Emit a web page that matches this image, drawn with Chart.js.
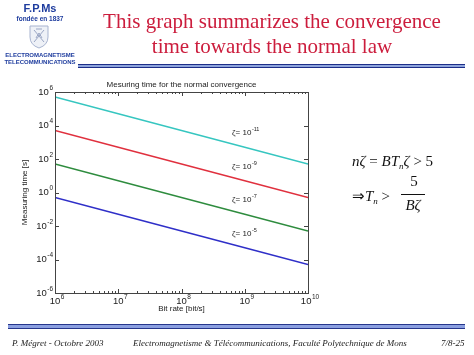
<!DOCTYPE html>
<html><head><meta charset="utf-8">
<script src="https://cdn.jsdelivr.net/npm/chart.js@4/dist/chart.umd.min.js"></script>
<style>
html,body{margin:0;padding:0;background:#fff;}
#page{position:relative;width:474px;height:355px;overflow:hidden;background:#fff;}
#c{position:absolute;left:0;top:0;}
.t{position:absolute;white-space:nowrap;}
.logo{font-family:"Liberation Sans",Arial,sans-serif;color:#1e3c9e;font-weight:bold;text-align:center;width:80px;left:0;}
.ttl{font-family:"Liberation Serif","Times New Roman",serif;color:#cc1d3d;font-size:21px;width:474px;left:35px;text-align:center;}
.foot{font-family:"Liberation Serif","Times New Roman",serif;font-style:italic;font-size:9px;color:#222;top:338px;}
.f{font-family:"Liberation Serif","Times New Roman",serif;font-size:15px;color:#111;}
.f i{font-style:italic;}
sub{font-size:9px;vertical-align:-3px;line-height:0;}
</style></head>
<body><div id="page">
<canvas id="c" width="474" height="355"></canvas>
<div class="t logo" style="top:2px;font-size:11px;">F.P.Ms</div>
<div class="t logo" style="top:15px;font-size:6.5px;">fondée en 1837</div>
<svg class="t" style="left:28px;top:24px" width="22" height="26" viewBox="0 0 22 26">
<path d="M2 2 H20 V13 Q20 21 11 24 Q2 21 2 13 Z" fill="#eef1f7" stroke="#a7b3cf" stroke-width="1"/>
<path d="M6 6 L16 18 M16 6 L6 18 M8 5 H14 M11 9 L8 14 M11 9 L14 14" stroke="#9aa6c4" stroke-width="1" fill="none"/>
</svg>
<div class="t logo" style="top:52px;font-size:6px;">ELECTROMAGNETISME</div>
<div class="t logo" style="top:59px;font-size:6px;">TELECOMMUNICATIONS</div>
<div class="t" style="left:78px;top:64px;width:387px;height:2px;background:#8ea4dc;border-top:1px solid #1c2e88;border-bottom:1px solid #1c2e88;"></div>
<div class="t ttl" style="top:9px;">This graph summarizes the convergence</div>
<div class="t ttl" style="top:34px;">time towards the normal law</div>

<div class="t f" style="left:352px;top:153px;"><i>nζ</i> = <i>BT<sub>n</sub>ζ</i> &gt; 5</div>
<div class="t f" style="left:352px;top:187px;">⇒<i>T<sub>n</sub></i> &gt;</div>
<div class="t f" style="left:403px;top:173px;width:22px;text-align:center;">5</div>
<div class="t" style="left:401px;top:194px;width:24px;height:1px;background:#111;"></div>
<div class="t f" style="left:401px;top:197px;width:24px;text-align:center;"><i>Bζ</i></div>

<div class="t" style="left:8px;top:324px;width:457px;height:3px;background:#8b9fe0;border-top:1px solid #26368c;border-bottom:1px solid #26368c;"></div>
<div class="t foot" style="left:12px;">P. Mégret - Octobre 2003</div>
<div class="t foot" style="left:133px;">Electromagnetisme &amp; Télécommunications, Faculté Polytechnique de Mons</div>
<div class="t foot" style="left:441px;">7/8-25</div>
</div>
<script>
// ---- data ----
const bitRates = [1e6, 1e7, 1e8, 1e9, 1e10];
const zeta11 = [5e5, 5e4, 5e3, 5e2, 5e1];
const zeta9  = [5e3, 5e2, 5e1, 5, 0.5];
const zeta7  = [50, 5, 0.5, 0.05, 0.005];
const zeta5  = [0.5, 0.05, 0.005, 5e-4, 5e-5];
const seriesNames = ['-11', '-9', '-7', '-5'];
const xTickExps = [6, 7, 8, 9, 10];
const yTickExps = [6, 4, 2, 0, -2, -4, -6];
const chartTitle = 'Mesuring time for the normal convergence';
const xTitle = 'Bit rate [bit/s]';
const yTitle = 'Measuring time [s]';

const colors = ['#36c6c0', '#e0303e', '#2e8c3e', '#2f2fc8'];
const allSeries = [zeta11, zeta9, zeta7, zeta5];

const datasets = allSeries.map((s, i) => ({
  label: 'ζ= 10' + seriesNames[i],
  data: bitRates.map((b, j) => ({x: b, y: s[j]})),
  borderColor: colors[i], borderWidth: 1.4, pointRadius: 0, fill: false, tension: 0
}));

function drawPow(ctx, x, y, exp, align, base, sup) {
  ctx.font = base + 'px "Liberation Sans", Arial, sans-serif';
  const w1 = ctx.measureText('10').width;
  ctx.font = sup + 'px "Liberation Sans", Arial, sans-serif';
  const w2 = ctx.measureText(String(exp)).width;
  const tot = w1 + w2 + 0.5;
  let x0 = align === 'center' ? x - tot / 2 : (align === 'right' ? x - tot : x);
  ctx.textAlign = 'left'; ctx.textBaseline = 'middle';
  ctx.font = base + 'px "Liberation Sans", Arial, sans-serif';
  ctx.fillText('10', x0, y);
  ctx.font = sup + 'px "Liberation Sans", Arial, sans-serif';
  ctx.fillText(String(exp), x0 + w1 + 0.5, y - base * 0.45);
}

const deco = {
  id: 'deco',
  afterDatasetsDraw(chart) {
    const {ctx, chartArea: a, scales: {x, y}} = chart;
    ctx.save();
    ctx.strokeStyle = '#444'; ctx.lineWidth = 1;
    ctx.strokeRect(Math.round(a.left) + 0.5, Math.round(a.top) + 0.5, Math.round(a.right - a.left), Math.round(a.bottom - a.top));
    ctx.beginPath();
    xTickExps.forEach((e, i) => {
      const p = Math.round(x.getPixelForValue(Math.pow(10, e))) + 0.5;
      ctx.moveTo(p, a.bottom); ctx.lineTo(p, a.bottom - 4);
      ctx.moveTo(p, a.top); ctx.lineTo(p, a.top + 4);
      if (i < xTickExps.length - 1) {
        for (let k = 2; k <= 9; k++) {
          const q = Math.round(x.getPixelForValue(k * Math.pow(10, e))) + 0.5;
          ctx.moveTo(q, a.bottom); ctx.lineTo(q, a.bottom - 2);
          ctx.moveTo(q, a.top); ctx.lineTo(q, a.top + 2);
        }
      }
    });
    yTickExps.forEach(e => {
      const p = Math.round(y.getPixelForValue(Math.pow(10, e))) + 0.5;
      ctx.moveTo(a.left, p); ctx.lineTo(a.left + 4, p);
      ctx.moveTo(a.right, p); ctx.lineTo(a.right - 4, p);
    });
    ctx.stroke();
    ctx.fillStyle = '#222';
    xTickExps.forEach(e => drawPow(ctx, x.getPixelForValue(Math.pow(10, e)) + 2, a.bottom + 8, e, 'center', 9.5, 6.5));
    yTickExps.forEach(e => drawPow(ctx, a.left - 2, y.getPixelForValue(Math.pow(10, e)), e, 'right', 9.5, 6.5));
    ctx.font = '8px "Liberation Sans", Arial, sans-serif';
    ctx.textAlign = 'center'; ctx.textBaseline = 'middle';
    ctx.fillText(chartTitle, (a.left + a.right) / 2, a.top - 7);
    allSeries.forEach((s, i) => {
      const px = x.getPixelForValue(6.3e8);
      const py = y.getPixelForValue(s[3]) - 14;
      ctx.font = '8px "Liberation Sans", Arial, sans-serif';
      ctx.textAlign = 'left'; ctx.textBaseline = 'middle';
      const head = 'ζ= 10';
      ctx.fillText(head, px, py);
      const w = ctx.measureText(head).width;
      ctx.font = '5.5px "Liberation Sans", Arial, sans-serif';
      ctx.fillText(seriesNames[i], px + w + 0.5, py - 3.5);
    });
    ctx.restore();
  }
};

new Chart(document.getElementById('c'), {
  type: 'line',
  data: {datasets},
  options: {
    responsive: false, animation: false, devicePixelRatio: 1,
    layout: {padding: {left: 16, right: 166, top: 92, bottom: 37}},
    plugins: {legend: {display: false}, title: {display: false}, tooltip: {enabled: false}},
    scales: {
      x: {type: 'logarithmic', min: 1e6, max: 1e10,
          grid: {display: false}, border: {display: false}, ticks: {display: false},
          title: {display: true, text: xTitle, color: '#222', font: {size: 8, family: '"Liberation Sans", Arial, sans-serif'}, padding: {top: 2, bottom: 4}},
          afterFit: s => { s.height = 25; }},
      y: {type: 'logarithmic', min: 1e-6, max: 1e6,
          grid: {display: false}, border: {display: false}, ticks: {display: false},
          title: {display: true, text: yTitle, color: '#222', font: {size: 8, family: '"Liberation Sans", Arial, sans-serif'}, padding: {top: 4, bottom: 2}},
          afterFit: s => { s.width = 39; }}
    }
  },
  plugins: [deco]
});
</script>
</body></html>
